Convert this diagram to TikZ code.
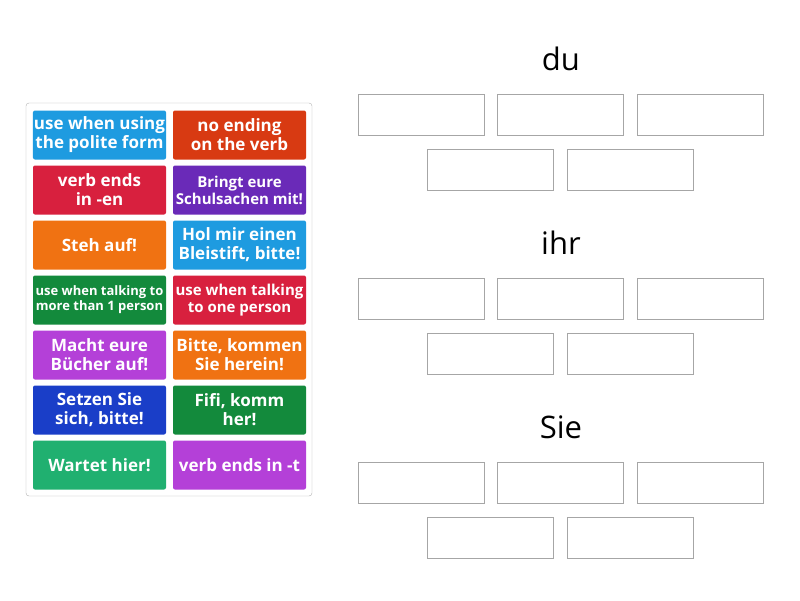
\documentclass[tikz,border=0pt]{standalone}
\usepackage{fontspec}
\setmainfont{Open Sans}
\begin{document}
\begin{tikzpicture}[x=1pt,y=-1pt,
 tile/.style={rounded corners=2pt,minimum width=133pt,minimum height=49pt,text=white,font=\bfseries\fontsize{17}{19}\selectfont,align=center,inner sep=1pt},
 small/.style={font=\bfseries\fontsize{13}{15}\selectfont},
 mid/.style={font=\bfseries\fontsize{15}{17}\selectfont},
 slot/.style={draw=gray!70,minimum width=126pt,minimum height=41pt,inner sep=0},
 head/.style={font=\fontsize{31}{33}\selectfont}]
\useasboundingbox (0,0) rectangle (800,600);
\draw[gray!60,fill=white,rounded corners=3pt] (26,103) rectangle (312,496);
\definecolor{cb}{HTML}{1E9BE0}\definecolor{cro}{HTML}{D83A12}\definecolor{ccr}{HTML}{D8203E}
\definecolor{cpu}{HTML}{6A2AB8}\definecolor{cor}{HTML}{F07212}\definecolor{cgr}{HTML}{138A3C}
\definecolor{cpk}{HTML}{B440D8}\definecolor{cdb}{HTML}{1A3EC8}\definecolor{ctl}{HTML}{20B070}
\node[tile,fill=cb] (a1) at (99.5,135) {use when using\\the polite form};
\node[tile,fill=cro] (b1) at (239.5,135) {no ending\\on the verb};
\node[tile,fill=ccr] (a2) at (99.5,190) {verb ends\\in -en};
\node[tile,fill=cpu,mid] (b2) at (239.5,190) {Bringt eure\\Schulsachen mit!};
\node[tile,fill=cor] (a3) at (99.5,245) {Steh auf!};
\node[tile,fill=cb] (b3) at (239.5,245) {Hol mir einen\\Bleistift, bitte!};
\node[tile,fill=cgr,small] (a4) at (99.5,300) {use when talking to\\more than 1 person};
\node[tile,fill=ccr,mid] (b4) at (239.5,300) {use when talking\\to one person};
\node[tile,fill=cpk] (a5) at (99.5,355) {Macht eure\\Bücher auf!};
\node[tile,fill=cor] (b5) at (239.5,355) {Bitte, kommen\\Sie herein!};
\node[tile,fill=cdb] (a6) at (99.5,410) {Setzen Sie\\sich, bitte!};
\node[tile,fill=cgr] (b6) at (239.5,410) {Fifi, komm\\her!};
\node[tile,fill=ctl] (a7) at (99.5,465) {Wartet hier!};
\node[tile,fill=cpk] (b7) at (239.5,465) {verb ends in -t};
\foreach \t/\n [count=\i from 0] in {du/du,ihr/ihr,Sie/sie}{
  \pgfmathsetmacro{\o}{\i*184}
  \node[head] (h\n) at (561,59+\o) {\t};
  \node[slot] (\n1) at (421,114.5+\o) {};
  \node[slot] (\n2) at (560,114.5+\o) {};
  \node[slot] (\n3) at (700,114.5+\o) {};
  \node[slot] (\n4) at (490,169.5+\o) {};
  \node[slot] (\n5) at (630,169.5+\o) {};
}
\end{tikzpicture}
\end{document}
